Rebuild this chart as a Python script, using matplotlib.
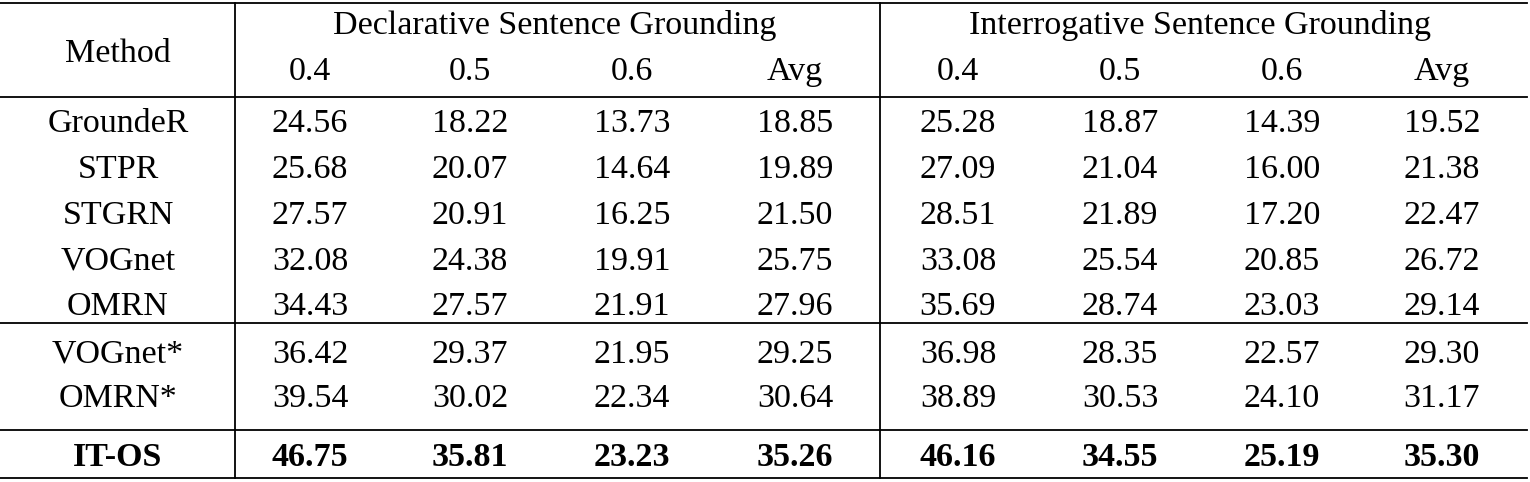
import matplotlib
matplotlib.use("Agg")
import matplotlib.pyplot as plt

methods = ["GroundeR", "STPR", "STGRN", "VOGnet", "OMRN", "VOGnet*", "OMRN*", "IT-OS"]
declarative = [
    ["24.56", "18.22", "13.73", "18.85"],
    ["25.68", "20.07", "14.64", "19.89"],
    ["27.57", "20.91", "16.25", "21.50"],
    ["32.08", "24.38", "19.91", "25.75"],
    ["34.43", "27.57", "21.91", "27.96"],
    ["36.42", "29.37", "21.95", "29.25"],
    ["39.54", "30.02", "22.34", "30.64"],
    ["46.75", "35.81", "23.23", "35.26"],
]
interrogative = [
    ["25.28", "18.87", "14.39", "19.52"],
    ["27.09", "21.04", "16.00", "21.38"],
    ["28.51", "21.89", "17.20", "22.47"],
    ["33.08", "25.54", "20.85", "26.72"],
    ["35.69", "28.74", "23.03", "29.14"],
    ["36.98", "28.35", "22.57", "29.30"],
    ["38.89", "30.53", "24.10", "31.17"],
    ["46.16", "34.55", "25.19", "35.30"],
]
sub_headers = ["0.4", "0.5", "0.6", "Avg"]
groups = ["Declarative Sentence Grounding", "Interrogative Sentence Grounding"]

W, H = 1530, 482
fig = plt.figure(figsize=(W / 100, H / 100), dpi=100)
ax = fig.add_axes([0, 0, 1, 1])
ax.set_xlim(0, W)
ax.set_ylim(H, 0)
ax.axis("off")
fs = 24.5
font = dict(family="Liberation Serif", fontsize=fs, ha="center", va="center_baseline")

lw = 1.3
for y in [3, 97, 323, 430, 478]:
    ax.plot([0, 1527], [y, y], color="black", lw=lw)
for x in [235, 880]:
    ax.plot([x, x], [3, 478], color="black", lw=lw)

col_x = [310, 470, 632, 795, 958, 1120, 1282, 1442]
ax.text(118, 50, "Method", **font)
ax.text(555, 22, groups[0], **font)
ax.text(1200, 22, groups[1], **font)
for i, h in enumerate(sub_headers * 2):
    ax.text(col_x[i], 68, h, **font)

row_y = [120, 166, 212, 258, 303, 351, 395, 454]
for r, m in enumerate(methods):
    w = "bold" if r == len(methods) - 1 else "normal"
    ax.text(118, row_y[r], m, fontweight=w, **font)
    vals = declarative[r] + interrogative[r]
    for c, v in enumerate(vals):
        ax.text(col_x[c], row_y[r], v, fontweight=w, **font)

fig.savefig("out.png", dpi=100)
